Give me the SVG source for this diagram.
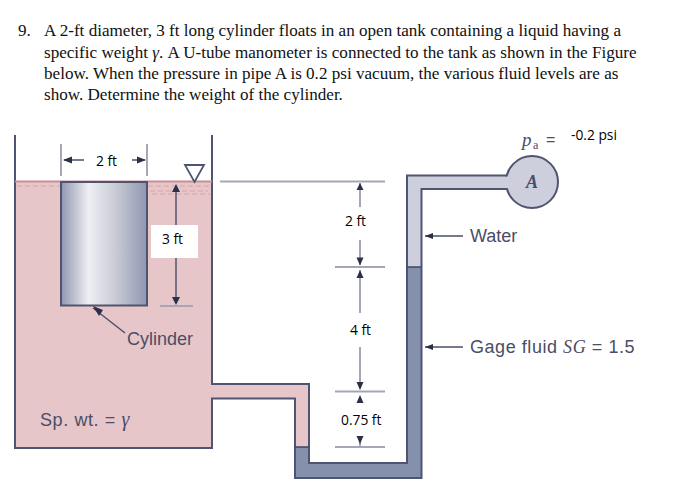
<svg xmlns="http://www.w3.org/2000/svg" width="690" height="491" viewBox="0 0 690 491">
<style>
.q{font-family:"Liberation Serif",serif;font-size:17.1px;fill:#111}
.l{font-family:"Liberation Sans",sans-serif;font-size:18px;fill:#4a4d68}
.c{font-family:"Open Sans",sans-serif;font-size:13.8px;fill:#000}
.o{fill:none;stroke:#4f5570;stroke-width:2}
.d{fill:none;stroke:#a3a7b6;stroke-width:2}
.a{fill:none;stroke:#4a4f68;stroke-width:1.4}
.h{fill:#2b3048}
.w{fill:none;stroke:#d9a3a8;stroke-width:1;stroke-dasharray:5 3}
</style>
<defs>
<linearGradient id="g"><stop offset="0" stop-color="#8f97b0"/><stop offset=".32" stop-color="#efeff3"/><stop offset=".65" stop-color="#c6c9d4"/><stop offset="1" stop-color="#8f97b0"/></linearGradient>
</defs>
<rect width="690" height="491" fill="#fff"/>
<g id="question">
<text class="q" x="18" y="36">9.</text>
<text class="q" x="44" y="36">A 2-ft diameter, 3 ft long cylinder floats in an open tank containing a liquid having a</text>
<text class="q" x="44" y="58">specific weight <tspan font-style="italic">γ</tspan>. A U-tube manometer is connected to the tank as shown in the Figure</text>
<text class="q" x="44" y="79">below. When the pressure in pipe A is 0.2 psi vacuum, the various fluid levels are as</text>
<text class="q" x="44" y="100">show. Determine the weight of the cylinder.</text>
</g>
<g id="tank">
<path d="M15 182H212V384H309V447H295V398.500H212V448H15Z" fill="#e7c6c9"/>
<path class="o" d="M15 135V448H212V398.500H295V447M212 135V384H309V447"/>
<path d="M15 181.500H212" stroke="#c98d95" stroke-width="2"/>
<path class="w" d="M17 186H60M148 186H210M150 191H208"/>
<path class="w" d="M152 194H210"/>
<path d="M185 165H204L194.500 182Z" fill="#fff" stroke="#4f5570" stroke-width="1.800"/>
</g>
<g id="manometer">
<path d="M295 447H309V463H407V175H421.500V478H295Z" fill="#8590ac"/>
<path d="M407 267V175H510V189H421.500V267Z" fill="#cdd0dc"/>
<circle cx="532" cy="182" r="26" fill="#cdd0dc" stroke="#4f5570" stroke-width="2"/>
<rect x="503" y="176.500" width="9" height="11.500" fill="#cdd0dc"/>
<path d="M507 175.500H407V267M507 189H421.500V478H295V447M309 447V463H407V267" class="o"/>
<path d="M295 447H309M407 267H421.500" stroke="#3e4560" stroke-width="1.500"/>
</g>
<g id="cylinder">
<rect x="61" y="182" width="86" height="123.500" fill="url(#g)" stroke="#4f5570" stroke-width="2"/>
</g>
<g id="connectors">
<path class="d" d="M61 144V176M147 144V176M160 306H193M220 181.500H385M335 267H385M335 391.500H385M335 447H385"/>
<path class="d" d="M360 183V207M360 240V265M360 270V313M360 347V389M360 436V447"/>
<path class="a" d="M64 160H84M132 160H145M176 190V225M176 258V302M93 308L125 333"/>
<path class="a" d="M425 236H463M425 347H463"/>
<path class="h" d="M63 160L72 156.500V163.500ZM146 160L137 156.500V163.500ZM176 184L172 192H180ZM176 305L172 297H180ZM360 183L356.500 190H363.500ZM360 265.500L356.500 257.500H363.500ZM360 270L356.500 278H363.500ZM360 390L356.500 382H363.500ZM360 395L356.500 403H363.500ZM360 444L356.500 436H363.500ZM425 236L433 233V239ZM425 347L433 344V350ZM93 306L103 310L99 316Z"/>
</g>
<g id="labels">
<rect x="151" y="225" width="47" height="33" fill="#fff"/>
<text class="c" x="96" y="166">2 ft</text>
<text class="c" x="162" y="244">3 ft</text>
<text class="c" x="345" y="226">2 ft</text>
<text class="c" x="350" y="335">4 ft</text>
<text class="c" x="341" y="425">0.75 ft</text>
<text class="c" x="571" y="140">-0.2 psi</text>
<text x="522" y="146" font-family="Liberation Serif" font-size="19" font-style="italic" fill="#4a4d68">p</text>
<text x="533" y="149" font-family="Liberation Serif" font-size="12" fill="#4a4d68">a</text>
<text x="546" y="145" font-family="Liberation Sans" font-size="16" fill="#4a4d68">=</text>
<text x="532" y="188" font-family="Liberation Serif" font-size="18" font-weight="bold" font-style="italic" fill="#4a4d68" text-anchor="middle">A</text>
<text class="l" x="470" y="242">Water</text>
<text class="l" x="470" y="353" letter-spacing=".55">Gage fluid <tspan font-family="Liberation Serif" font-style="italic">SG</tspan> = 1.5</text>
<text class="l" x="127" y="345">Cylinder</text>
<text class="l" x="40" y="426" letter-spacing=".6">Sp. wt. = <tspan font-family="Liberation Serif" font-style="italic" font-size="20">γ</tspan></text>
</g>
</svg>
